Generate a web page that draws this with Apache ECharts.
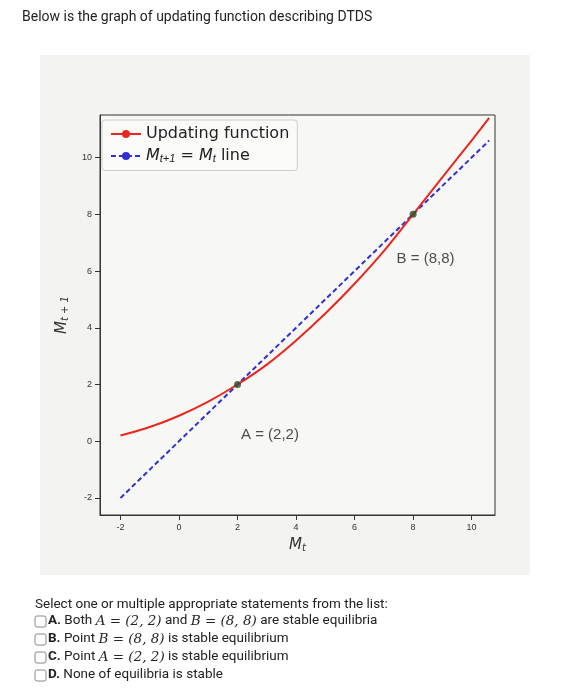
<!DOCTYPE html>
<html><head><meta charset="utf-8">
<script src="https://cdn.jsdelivr.net/npm/echarts@6/dist/echarts.min.js"></script>
<style>html,body{margin:0;padding:0;background:#fff}#c{width:570px;height:700px}</style>
</head><body><div id="c"></div>
<script>
const fnX = [-2,-1,0,1,2,3,4,5,6,7,8,9,10,10.6];
const fnY = [0.2,0.5,0.9,1.4,2,2.7,3.55,4.5,5.55,6.7,8,9.3,10.6,11.4];
const lineX = [-2,10.6];
const eqPoints = [[2,2],[8,8]];
const eqLabels = ['A = (2,2)','B = (8,8)'];
const xTicks = [-2,0,2,4,6,8,10];
const yTicks = [-2,0,2,4,6,8,10];
const options = [
 ['A.',' Both ','A = (2, 2)',' and ','B = (8, 8)',' are stable equilibria'],
 ['B.',' Point ','B = (8, 8)',' is stable equilibrium'],
 ['C.',' Point ','A = (2, 2)',' is stable equilibrium'],
 ['D.',' None of equilibria is stable']
];
const chart = echarts.init(document.getElementById('c'));
const g = [
 {type:'rect',shape:{x:40,y:55,width:490,height:520},style:{fill:'#f3f3f1'},z:-10},
 {type:'text',left:22,top:10,style:{text:'Below is the graph of updating function describing DTDS',font:'14px Roboto, Arial',fill:'#222'}},
 {type:'text',left:35,top:598,style:{text:'Select one or multiple appropriate statements from the list:',font:'13.5px Roboto, Arial',fill:'#222'}}
];
options.forEach((o,i)=>{
 const y=616+i*18;
 g.push({type:'rect',shape:{x:35,y:y,width:11,height:11,r:2},style:{fill:'#fff',stroke:'#888',lineWidth:1}});
 let s='{b|'+o[0]+'}';
 for(let k=1;k<o.length;k++){ s += (o[k].indexOf('=')>=0)? '{m|'+o[k]+'}' : '{n|'+o[k]+'}'; }
 g.push({type:'text',left:48,top:y-2,style:{text:s,rich:{b:{font:'bold 13.5px Roboto, Arial',fill:'#222'},n:{font:'13.5px Roboto, Arial',fill:'#222'},m:{font:'italic 13.5px "DejaVu Serif", serif',fill:'#222'}}}});
});
const nameRich={i:{fontSize:15,fontStyle:'italic',fontFamily:'DejaVu Sans',color:'#333'},s:{fontSize:10,fontStyle:'italic',fontFamily:'DejaVu Sans',color:'#333',padding:[6,0,0,0]}};
chart.setOption({
 animation:false,
 graphic:g,
 grid:{left:100,right:75,top:115,bottom:185,show:true,borderColor:'#333',borderWidth:1,backgroundColor:'#f7f7f6'},
 legend:{left:102,top:120,orient:'vertical',itemWidth:30,itemHeight:10,itemGap:6,backgroundColor:'rgba(250,250,250,0.9)',borderColor:'#ccc',borderWidth:1,borderRadius:3,padding:[6,8],
  data:['Updating function','Mline'],
  formatter:n=> n==='Mline' ? '{i|M}{s|t+1}{n| = }{i|M}{s|t}{n| line}' : '{n|'+n+'}',
  textStyle:{fontSize:16,color:'#222',rich:{n:{fontSize:16,fontFamily:'DejaVu Sans'},i:{fontSize:16,fontStyle:'italic',fontFamily:'DejaVu Sans'},s:{fontSize:11,fontStyle:'italic',padding:[6,0,0,0]}}}},
 xAxis:{type:'value',min:-2.7,max:10.8,name:'{i|M}{s|t}',nameLocation:'middle',nameGap:22,
  nameTextStyle:{rich:nameRich},
  axisLine:{onZero:false,lineStyle:{color:'#333'}},splitLine:{show:false},
  axisTick:{customValues:xTicks,lineStyle:{color:'#333'}},axisLabel:{customValues:xTicks,fontSize:9,color:'#333'}},
 yAxis:{type:'value',min:-2.6,max:11.5,name:'{i|M}{s|t + 1}',nameLocation:'middle',nameGap:30,
  nameTextStyle:{rich:nameRich},
  axisLine:{onZero:false,lineStyle:{color:'#333'}},splitLine:{show:false},
  axisTick:{customValues:yTicks,lineStyle:{color:'#333'}},axisLabel:{customValues:yTicks,fontSize:9,color:'#333'}},
 series:[
  {name:'Updating function',type:'line',smooth:0.4,symbol:'none',data:fnX.map((x,i)=>[x,fnY[i]]),lineStyle:{color:'#e8281e',width:2},itemStyle:{color:'#e8281e'},z:3},
  {name:'Mline',type:'line',symbol:'none',data:lineX.map(x=>[x,x]),lineStyle:{color:'#3030d0',width:2,type:[5,3]},itemStyle:{color:'#3030d0'},z:2},
  {name:'eq',type:'scatter',symbolSize:7,data:eqPoints,itemStyle:{color:'#2d4a2d'},z:5,
   label:{show:true,formatter:p=>eqLabels[p.dataIndex],fontSize:15,color:'#222',position:'right'},
   labelLayout:p=>p.dataIndex===0?{dx:-5,dy:50}:{dx:-25,dy:45}}
 ]
});
</script></body></html>
